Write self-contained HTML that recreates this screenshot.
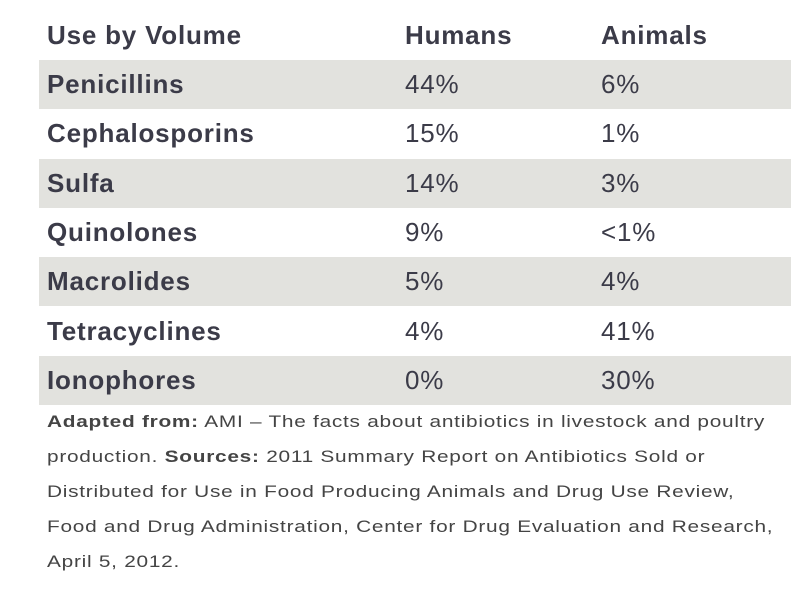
<!DOCTYPE html>
<html><head><meta charset="utf-8"><style>
body{margin:0;width:806px;height:595px;background:#fff;font-family:"Liberation Sans",sans-serif;color:#3b3b48;position:relative;overflow:hidden}
.row{position:absolute;left:39px;width:752px;height:49px}
.row.s{background:#e2e2de}
.c{position:absolute;top:0;line-height:49px;font-size:26px;letter-spacing:0.8px}
.n{left:8px;font-weight:bold}
.h{left:366px}.a{left:562px}
.hdr .c{font-weight:bold}
.foot{position:absolute;left:47px;top:404px;font-size:17px;line-height:35px;color:#444;letter-spacing:0.6px;white-space:nowrap;transform:scaleX(1.225);transform-origin:0 0}
</style></head><body>
<div class="row hdr" style="top:11px"><span class="c n">Use by Volume</span><span class="c h">Humans</span><span class="c a">Animals</span></div>
<div id="t"></div>
<div class="foot"><b>Adapted from:</b> AMI – The facts about antibiotics in livestock and poultry<br>production. <b>Sources:</b> 2011 Summary Report on Antibiotics Sold or<br>Distributed for Use in Food Producing Animals and Drug Use Review,<br>Food and Drug Administration, Center for Drug Evaluation and Research,<br>April 5, 2012.</div>
<script>
const drugs=["Penicillins","Cephalosporins","Sulfa","Quinolones","Macrolides","Tetracyclines","Ionophores"];
const humans=["44%","15%","14%","9%","5%","4%","0%"];
const animals=["6%","1%","3%","<1%","4%","41%","30%"];
const t=document.getElementById('t');
drugs.forEach((d,i)=>{
const r=document.createElement('div');
r.className='row'+(i%2==0?' s':'');
r.style.top=(60+i*49.3)+'px';


[[d,'n'],[humans[i],'h'],[animals[i],'a']].forEach(([v,c])=>{const s=document.createElement('span');s.className='c '+c;s.textContent=v;r.appendChild(s);});
t.appendChild(r);
});
</script>
</body></html>
